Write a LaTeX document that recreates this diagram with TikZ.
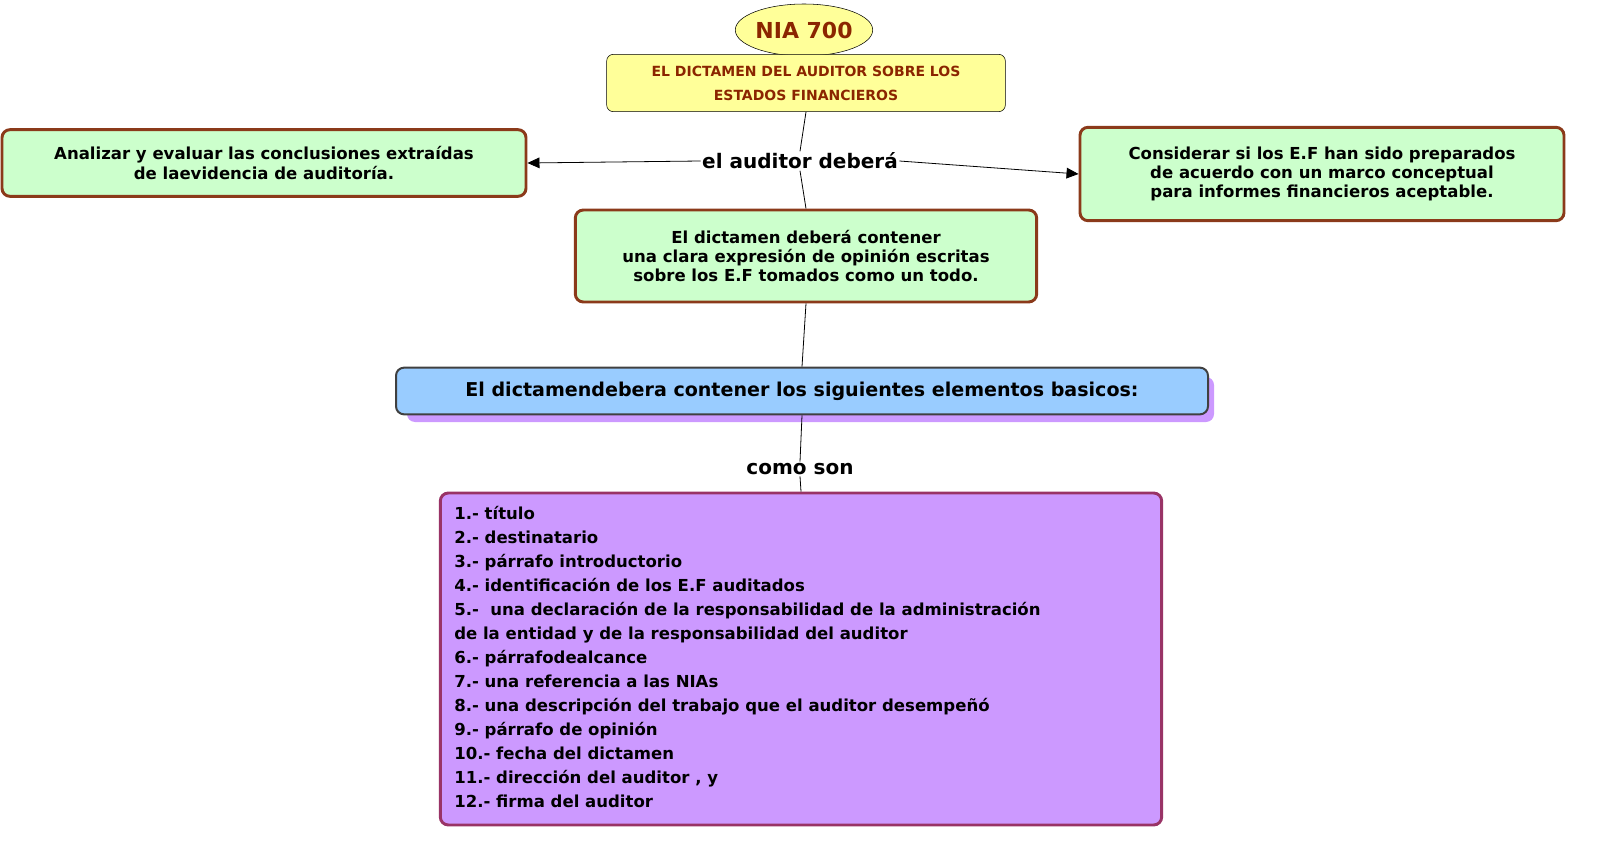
\documentclass[tikz,border=0pt]{standalone}
\usepackage{fontspec}
\setmainfont{DejaVu Sans}
\usetikzlibrary{shapes.geometric,arrows.meta}
\definecolor{brd}{HTML}{8B3A1A}
\definecolor{grn}{HTML}{CCFFCC}
\definecolor{ylw}{HTML}{FFFF99}
\definecolor{dred}{HTML}{8B2500}
\definecolor{blu}{HTML}{99CCFF}
\definecolor{pur}{HTML}{CC99FF}
\definecolor{purb}{HTML}{993366}
\tikzset{
  gbox/.style={draw=brd,line width=2.2pt,fill=grn,rounded corners=6pt,align=center,font=\bfseries\fontsize{12.4}{14.5}\selectfont,inner sep=0pt},
  lbl/.style={font=\bfseries\fontsize{15}{18}\selectfont,fill=white,inner sep=1pt},
  conn/.style={line width=0.6pt},
  arr/.style={line width=0.6pt,-{Triangle[length=9pt,width=8pt]}}
}
\begin{document}
\begin{tikzpicture}[x=0.75pt,y=-0.75pt]
\useasboundingbox (0,0) rectangle (1600,845);
% nodes
\node[draw,ellipse,fill=ylw,text=dred,font=\bfseries\fontsize{16.5}{18}\selectfont,minimum width=90pt,minimum height=39pt,inner sep=0pt] (nia) at (804,30) {NIA 700};
\node[draw,fill=ylw,rounded corners=5pt,text=dred,align=center,font=\bfseries\fontsize{10.5}{18}\selectfont,minimum width=299pt,minimum height=43pt,inner sep=0pt] (dict) at (806,83) {EL DICTAMEN DEL AUDITOR SOBRE LOS\\ESTADOS FINANCIEROS};
\node[lbl] (aud) at (800,161) {el auditor deberá};
\node[gbox,minimum width=393pt,minimum height=50pt] (left) at (264,163) {Analizar y evaluar las conclusiones extraídas\\de laevidencia de auditoría.};
\node[gbox,minimum width=363pt,minimum height=70pt] (right) at (1322,174) {Considerar si los E.F han sido preparados\\de acuerdo con un marco conceptual\\para informes financieros aceptable.};
\node[gbox,minimum width=346pt,minimum height=69pt] (cent) at (806,256) {El dictamen deberá contener\\una clara expresión de opinión escritas\\sobre los E.F tomados como un todo.};
\fill[pur,rounded corners=6pt] (407,377) rectangle (1214,422);
\node[draw=black!75,line width=1.5pt,fill=blu,rounded corners=6pt,font=\bfseries\fontsize{14.3}{17}\selectfont,minimum width=609pt,minimum height=35pt,inner sep=0pt] (blue) at (802,391) {El dictamendebera contener los siguientes elementos basicos:};
\node[lbl] (como) at (800,469) {como son};
\node[draw=purb,line width=2.2pt,fill=pur,rounded corners=6pt,minimum width=541pt,minimum height=249pt,inner sep=0pt] (list) at (801,659) {};
\node[anchor=north west,align=left,font=\bfseries\fontsize{12.4}{18}\selectfont,inner sep=0pt] (items) at (454,506) {1.- título\\2.- destinatario\\3.- párrafo introductorio\\4.- identificación de los E.F auditados\\5.-\ \ una declaración de la responsabilidad de la administración\\de la entidad y de la responsabilidad del auditor\\6.- párrafodealcance\\7.- una referencia a las NIAs\\8.- una descripción del trabajo que el auditor desempeñó\\9.- párrafo de opinión\\10.- fecha del dictamen\\11.- dirección del auditor , y\\12.- firma del auditor};
% connectors
\draw[conn] (dict.south) -- (aud.north);
\draw[conn] (aud.south) -- (cent.north);
\draw[arr] (aud.west) -- (left.east);
\draw[arr] (aud.east) -- (right.west);
\draw[conn] (cent.south) -- (blue.north);
\draw[conn] (blue.south) -- (como.north);
\draw[conn] (como.south) -- (list.north);
\end{tikzpicture}
\end{document}
